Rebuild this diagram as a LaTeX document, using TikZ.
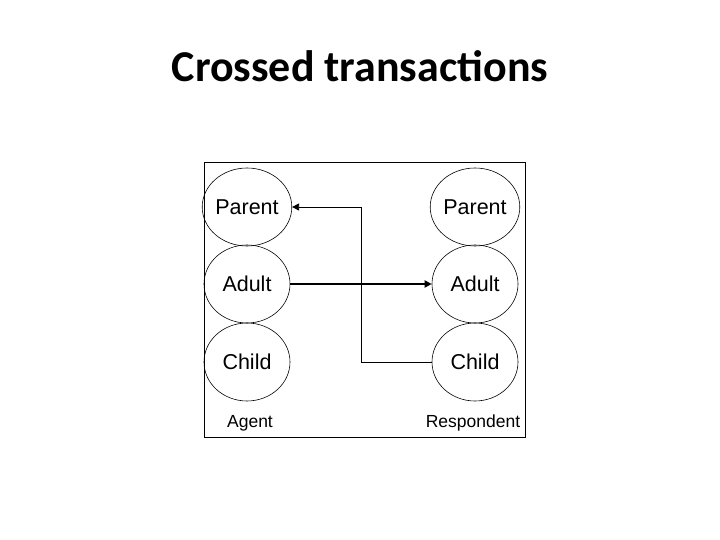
\documentclass[tikz,border=0pt]{standalone}
\usepackage{fontspec}
\setsansfont{Liberation Sans}
\newfontfamily\titlefont{Carlito}
\usetikzlibrary{shapes.geometric,arrows.meta}

\begin{document}
\begin{tikzpicture}[x=1pt,y=-1pt,font=\sffamily,
  ego/.style={ellipse,draw,line width=0.6pt,minimum width=86pt,minimum height=78pt,inner sep=0pt,font=\fontsize{21.5}{24}\sffamily},
  tip/.style={-{Triangle[length=7pt,width=7pt]}}]
\useasboundingbox (0,0) rectangle (720,540);

\node[font=\titlefont\bfseries\fontsize{44}{52}\selectfont] (title) at (360,66) {Crossed transactions};

\draw[line width=0.8pt] (204,162) rectangle (525,437);

\foreach \y/\n/\t in {207/parent/Parent,284/adult/Adult,362/child/Child}{%
\node[ego] (a\n) at (247,\y) {\t};
\node[ego] (r\n) at (475,\y) {\t};
}

\node[font=\fontsize{17.5}{20}\sffamily] (agent) at (250,423) {Agent};
\node[font=\fontsize{17.5}{20}\sffamily] (resp) at (473,423) {Respondent};

\coordinate (bend) at (361,362);
\draw[line width=2pt,tip] (aadult.east) -- (radult.west);
\draw[line width=0.8pt,tip] (rchild.west) -- (bend) |- (aparent.east);

\end{tikzpicture}
\end{document}
